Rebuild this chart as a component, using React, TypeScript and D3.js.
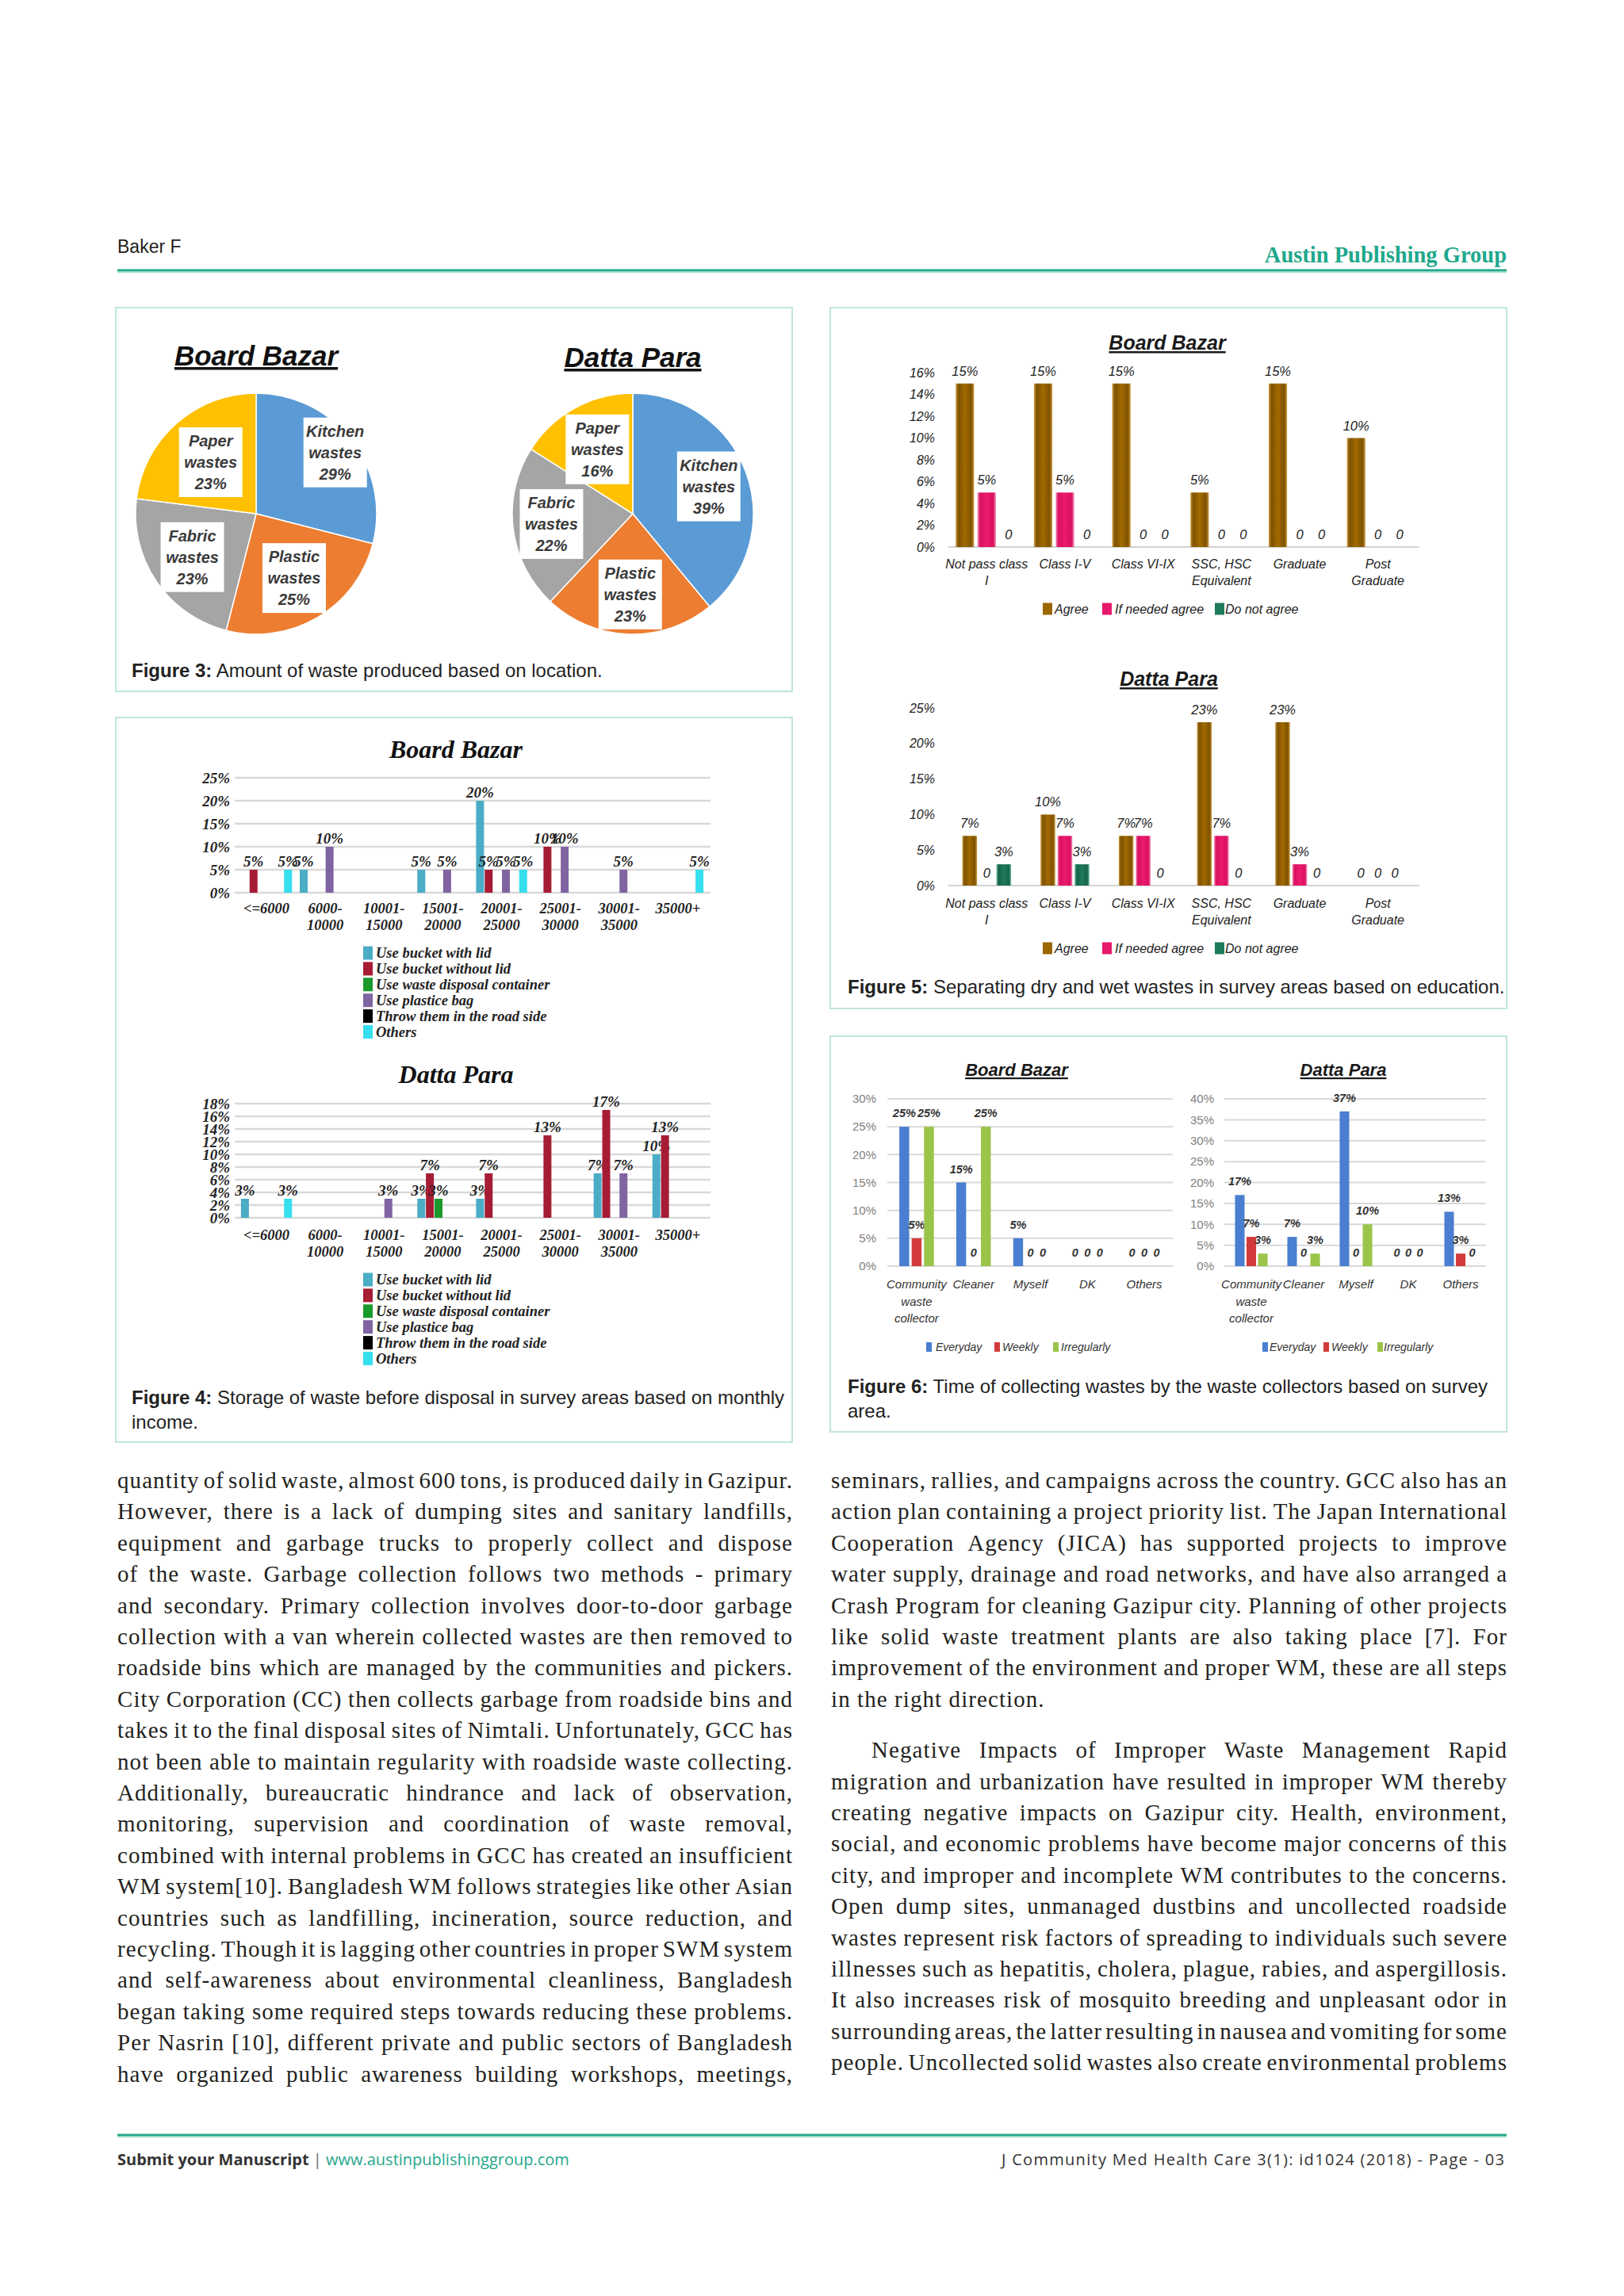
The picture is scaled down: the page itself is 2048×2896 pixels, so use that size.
import React, { useMemo } from "react";
import * as d3 from "d3";

// ---------------- DATA ----------------
// Figure 3: amount of waste by type
const wasteTypes = ["Kitchen", "Plastic", "Fabric", "Paper"];
const wasteBoardBazar = [29, 25, 23, 23];
const wasteDattaPara = [39, 23, 22, 16];

// Figure 4: storage of waste by monthly income
const incomeCategories = ["<=6000", "6000-10000", "10001-15000", "15001-20000", "20001-25000", "25001-30000", "30001-35000", "35000+"];
const storageSeries = ["Use bucket with lid", "Use bucket without lid", "Use waste disposal container", "Use plastice bag", "Throw them in the road side", "Others"];
const bbLid = [0, 5, 0, 5, 20, 0, 0, 0];
const bbNoLid = [5, 0, 0, 0, 5, 10, 0, 0];
const bbContainer = [0, 0, 0, 0, 0, 0, 0, 0];
const bbPlasticBag = [0, 10, 0, 5, 5, 10, 5, 0];
const bbRoadSide = [0, 0, 0, 0, 0, 0, 0, 0];
const bbOthers = [5, 0, 0, 0, 5, 0, 0, 5];
const dpLid = [3, 0, 0, 3, 3, 0, 7, 10];
const dpNoLid = [0, 0, 0, 7, 7, 13, 17, 13];
const dpContainer = [0, 0, 0, 3, 0, 0, 0, 0];
const dpPlasticBag = [0, 0, 3, 0, 0, 0, 7, 0];
const dpRoadSide = [0, 0, 0, 0, 0, 0, 0, 0];
const dpOthers = [3, 0, 0, 0, 0, 0, 0, 0];

// Figure 5: separating dry and wet wastes by education
const educationLabels = [["Not pass class", "I"], ["Class I-V"], ["Class VI-IX"], ["SSC, HSC", "Equivalent"], ["Graduate"], ["Post", "Graduate"]];
const separationSeries = ["Agree", "If needed agree", "Do not agree"];
const sepBBAgree = [15, 15, 15, 5, 15, 10];
const sepBBIfNeeded = [5, 5, 0, 0, 0, 0];
const sepBBNotAgree = [0, 0, 0, 0, 0, 0];
const sepDPAgree = [7, 10, 7, 23, 23, 0];
const sepDPIfNeeded = [0, 7, 7, 7, 3, 0];
const sepDPNotAgree = [3, 3, 0, 0, 0, 0];

// Figure 6: time of collecting wastes
const collectorLabels = [["Community", "waste", "collector"], ["Cleaner"], ["Myself"], ["DK"], ["Others"]];
const timeSeries = ["Everyday", "Weekly", "Irregularly"];
const timeBBEveryday = [25, 15, 5, 0, 0];
const timeBBWeekly = [5, 0, 0, 0, 0];
const timeBBIrregular = [25, 25, 0, 0, 0];
const timeDPEveryday = [17, 7, 37, 0, 13];
const timeDPWeekly = [7, 0, 0, 0, 3];
const timeDPIrregular = [3, 3, 10, 0, 0];

// Body text
const leftLines = [
  "quantity of solid waste, almost 600 tons, is produced daily in Gazipur.",
  "However, there is a lack of dumping sites and sanitary landfills,",
  "equipment and garbage trucks to properly collect and dispose",
  "of the waste. Garbage collection follows two methods - primary",
  "and secondary. Primary collection involves door-to-door garbage",
  "collection with a van wherein collected wastes are then removed to",
  "roadside bins which are managed by the communities and pickers.",
  "City Corporation (CC) then collects garbage from roadside bins and",
  "takes it to the final disposal sites of Nimtali. Unfortunately, GCC has",
  "not been able to maintain regularity with roadside waste collecting.",
  "Additionally, bureaucratic hindrance and lack of observation,",
  "monitoring, supervision and coordination of waste removal,",
  "combined with internal problems in GCC has created an insufficient",
  "WM system[10]. Bangladesh WM follows strategies like other Asian",
  "countries such as landfilling, incineration, source reduction, and",
  "recycling. Though it is lagging other countries in proper SWM system",
  "and self-awareness about environmental cleanliness, Bangladesh",
  "began taking some required steps towards reducing these problems.",
  "Per Nasrin [10], different private and public sectors of Bangladesh",
  "have organized public awareness building workshops, meetings,",
];
const rightLines = [
  "seminars, rallies, and campaigns across the country. GCC also has an",
  "action plan containing a project priority list. The Japan International",
  "Cooperation Agency (JICA) has supported projects to improve",
  "water supply, drainage and road networks, and have also arranged a",
  "Crash Program for cleaning Gazipur city. Planning of other projects",
  "like solid waste treatment plants are also taking place [7]. For",
  "improvement of the environment and proper WM, these are all steps",
  "in the right direction.",
  "Negative Impacts of Improper Waste Management Rapid",
  "migration and urbanization have resulted in improper WM thereby",
  "creating negative impacts on Gazipur city. Health, environment,",
  "social, and economic problems have become major concerns of this",
  "city, and improper and incomplete WM contributes to the concerns.",
  "Open dump sites, unmanaged dustbins and uncollected roadside",
  "wastes represent risk factors of spreading to individuals such severe",
  "illnesses such as hepatitis, cholera, plague, rabies, and aspergillosis.",
  "It also increases risk of mosquito breeding and unpleasant odor in",
  "surrounding areas, the latter resulting in nausea and vomiting for some",
  "people. Uncollected solid wastes also create environmental problems",
];

// ---------------- STYLES ----------------
const SANS = "'Liberation Sans', Arial, sans-serif";
const SERIF = "'Liberation Serif', 'Times New Roman', serif";
const NARROW = "'Liberation Sans Narrow', 'Liberation Sans', sans-serif";
const TEAL = "#1fa88c";
const wasteColors = ["#5b9bd5", "#ed7d31", "#a5a5a5", "#ffc000"];
const storageColors = ["#4bacc6", "#a61c34", "#1a9a2c", "#8064a2", "#000000", "#35dfee"];
const sepFills = ["url(#gAgree)", "url(#gPink)", "url(#gTeal)"];
const sepColors = ["#9c6600", "#e8186c", "#1e7a5c"];
const timeColors = ["#4a7ed0", "#d33b3b", "#9bc44a"];

const serifBI = { fontFamily: SERIF, fontWeight: 700, fontStyle: "italic" } as const;
const narrowI = { fontFamily: NARROW, fontStyle: "italic" } as const;

// ---------------- COMPONENTS ----------------
type PieProps = { cx: number; cy: number; r: number; values: number[]; title: string; titleY: number; labelR: number[] };
function Pie({ cx, cy, r, values, title, titleY, labelR }: PieProps) {
  const arcs = d3.pie<number>().sort(null).value((d) => d)(values);
  const arcGen = d3.arc<d3.PieArcDatum<number>>().innerRadius(0).outerRadius(r);
  return (
    <g>
      <text x={cx} y={titleY} textAnchor="middle" style={{ fontFamily: NARROW, fontWeight: 700, fontStyle: "italic", fontSize: 35, textDecoration: "underline" }} fill="#111">{title}</text>
      <g transform={`translate(${cx},${cy})`}>
        {arcs.map((a, i) => (
          <path key={i} d={arcGen(a) || ""} fill={wasteColors[i]} stroke="#fff" strokeWidth={1.5} />
        ))}
      </g>
      {arcs.map((a, i) => {
        const mid = (a.startAngle + a.endAngle) / 2;
        const rr = r * labelR[i];
        const lx = cx + rr * Math.sin(mid);
        const ly = cy - rr * Math.cos(mid);
        const lines = [wasteTypes[i], "wastes", `${values[i]}%`];
        return (
          <g key={"l" + i}>
            <rect x={lx - 40} y={ly - 44} width={80} height={88} fill="#fff" />
            {lines.map((t, li) => (
              <text key={li} x={lx} y={ly + (li - 1) * 27 + 7} textAnchor="middle" style={{ fontFamily: NARROW, fontWeight: 700, fontStyle: "italic", fontSize: 20 }} fill="#3a3a3a">{t}</text>
            ))}
          </g>
        );
      })}
    </g>
  );
}

type BarCfg = {
  cats: string[][];
  series: number[][];
  fills: string[];
  x0: number; x1: number; y0: number; y1: number;
  yMax: number; yStep: number; padOuter: number; padSlot: number;
  tickRight: number; tickStyle: any; tickFill: string;
  grid?: [number, number]; gridW?: number; axis?: [number, number];
  valueStyle: any; valueOffset: number; showZero: boolean; valueFill: string;
  xLabelY: number; xLabelLH: number; xLabelStyle: any; xLabelFill: string;
};
function GroupedBars(p: BarCfg) {
  const n = p.cats.length;
  const x = d3.scaleBand<number>().domain(d3.range(n)).range([p.x0, p.x1]).paddingInner(p.padOuter).paddingOuter(p.padOuter / 2);
  const xi = d3.scaleBand<number>().domain(d3.range(p.series.length)).range([0, x.bandwidth()]).paddingInner(p.padSlot).paddingOuter(p.padSlot / 2);
  const y = d3.scaleLinear().domain([0, p.yMax]).range([p.y0, p.y1]);
  const ticks = d3.range(0, p.yMax + p.yStep / 2, p.yStep);
  return (
    <g>
      {p.grid && ticks.map((t) => (
        <line key={"g" + t} x1={p.grid![0]} x2={p.grid![1]} y1={y(t)} y2={y(t)} stroke="#d9d9d9" strokeWidth={p.gridW || 2} />
      ))}
      {p.axis && <line x1={p.axis[0]} x2={p.axis[1]} y1={y(0)} y2={y(0)} stroke="#d4d4d4" strokeWidth={2} />}
      {ticks.map((t) => (
        <text key={"t" + t} x={p.tickRight} y={y(t)} dy="0.35em" textAnchor="end" style={p.tickStyle} fill={p.tickFill}>{`${t}%`}</text>
      ))}
      {p.series.map((s, si) =>
        s.map((v, ci) => {
          const bx = (x(ci) as number) + (xi(si) as number);
          const bw = xi.bandwidth();
          return (
            <g key={`b${si}-${ci}`}>
              {v > 0 && <rect x={bx} y={y(v)} width={bw} height={y(0) - y(v)} fill={p.fills[si]} />}
              {(v > 0 || p.showZero) && (
                <text x={bx + bw / 2} y={y(v) - p.valueOffset} textAnchor="middle" style={p.valueStyle} fill={p.valueFill}>{v > 0 ? `${v}%` : "0"}</text>
              )}
            </g>
          );
        })
      )}
      {p.cats.map((lines, ci) =>
        lines.map((l, li) => (
          <text key={`x${ci}-${li}`} x={(x(ci) as number) + x.bandwidth() / 2} y={p.xLabelY + li * p.xLabelLH} textAnchor="middle" style={p.xLabelStyle} fill={p.xLabelFill}>{l}</text>
        ))
      )}
    </g>
  );
}

type LegendItem = { label: string; color: string; sx: number; tx: number; y: number };
function Legend({ items, sw, sh, style, fill }: { items: LegendItem[]; sw: number; sh: number; style: any; fill: string }) {
  return (
    <g>
      {items.map((it, i) => (
        <g key={i}>
          <rect x={it.sx} y={it.y - sh / 2} width={sw} height={sh} fill={it.color} />
          <text x={it.tx} y={it.y} dy="0.35em" style={style} fill={fill}>{it.label}</text>
        </g>
      ))}
    </g>
  );
}

const BODY_SIZE = 29;
function BodyColumn({ lines, x0, x1, ys, justify, indent, refLine }: { lines: string[]; x0: number; x1: number; ys: number[]; justify: boolean[]; indent: number[]; refLine: string }) {
  const layout = useMemo(() => {
    const ctx = document.createElement("canvas").getContext("2d")!;
    ctx.font = `${BODY_SIZE}px ${SERIF}`;
    // letter spacing so that a naturally-set reference line fills the column
    const refW = ctx.measureText(refLine).width;
    const ls = (x1 - x0 - refW) / (refLine.length - 1);
    const space = ctx.measureText(" ").width + ls;
    const rows = lines.map((line, i) => {
      const words = line.split(" ");
      const widths = words.map((w) => ctx.measureText(w).width + ls * w.length);
      const start = x0 + indent[i];
      const avail = x1 - start;
      const total = widths.reduce((a, b) => a + b, 0);
      const gap = justify[i] && words.length > 1 ? (avail - total + ls) / (words.length - 1) : space;
      const xs: number[] = [];
      let cx = start;
      words.forEach((w, wi) => { xs.push(cx); cx += widths[wi] + gap; });
      return { words, xs };
    });
    return { rows, ls };
  }, [lines, x0, x1, refLine]);
  return (
    <g style={{ fontFamily: SERIF, fontSize: BODY_SIZE, letterSpacing: `${layout.ls}px` }} fill="#231f20">
      {layout.rows.map((l, i) => (
        <text key={i} y={ys[i]}>
          {l.words.map((w, wi) => (
            <tspan key={wi} x={l.xs[wi]}>{w}</tspan>
          ))}
        </text>
      ))}
    </g>
  );
}

function Caption({ x, y, label, lines }: { x: number; y: number; label: string; lines: string[] }) {
  return (
    <g style={{ fontFamily: SANS, fontSize: 24 }} fill="#222">
      {lines.map((l, i) => (
        <text key={i} x={x} y={y + i * 31}>
          {i === 0 && <tspan fontWeight={700}>{label}</tspan>}
          {i === 0 ? " " + l : l}
        </text>
      ))}
    </g>
  );
}

function splitIncome(c: string): string[] {
  const k = c.indexOf("-");
  if (k < 0) return [c];
  return [c.slice(0, k + 1), c.slice(k + 1)];
}

export default function App() {
  const incomeLabels = incomeCategories.map(splitIncome);
  const bbStorage = [bbLid, bbNoLid, bbContainer, bbPlasticBag, bbRoadSide, bbOthers];
  const dpStorage = [dpLid, dpNoLid, dpContainer, dpPlasticBag, dpRoadSide, dpOthers];

  const fig4Common = {
    cats: incomeLabels, fills: storageColors, x0: 299, x1: 892, padOuter: 0.12, padSlot: 0.08,
    tickRight: 290, tickStyle: { ...serifBI, fontSize: 19 }, tickFill: "#222",
    grid: [296, 896] as [number, number], gridW: 2.5,
    valueStyle: { ...serifBI, fontSize: 19 }, valueOffset: 4, showZero: false, valueFill: "#222",
    xLabelLH: 21, xLabelStyle: { ...serifBI, fontSize: 18.5 }, xLabelFill: "#222",
  };
  const fig5Common = {
    cats: educationLabels, fills: sepFills, x0: 1195, x1: 1787,
    tickRight: 1179, tickStyle: { ...narrowI, fontSize: 16 }, tickFill: "#222",
    axis: [1196, 1790] as [number, number],
    valueStyle: { ...narrowI, fontSize: 16.5 }, valueOffset: 10, showZero: true, valueFill: "#222",
    xLabelLH: 21, xLabelStyle: { ...narrowI, fontSize: 16 }, xLabelFill: "#222",
  };
  const fig6Common = {
    cats: collectorLabels, fills: timeColors,
    tickStyle: { fontFamily: NARROW, fontSize: 15 }, tickFill: "#808080",
    gridW: 2,
    valueStyle: { fontFamily: NARROW, fontStyle: "italic", fontWeight: 700, fontSize: 14.5 }, valueOffset: 12, showZero: true, valueFill: "#333",
    xLabelY: 1625, xLabelLH: 21.5, xLabelStyle: { ...narrowI, fontSize: 15 }, xLabelFill: "#333",
  };

  const leftYs = leftLines.map((_, i) => 1877 + i * 39.4);
  const rightYs = rightLines.map((_, i) => 1877 + i * 39.4 + (i >= 8 ? 25 : 0));

  const fig4LegendItems = (y0: number) =>
    storageSeries.map((s, i) => ({ label: s, color: storageColors[i], sx: 458, tx: 474, y: y0 + i * 19.9 }));
  const fig5LegendItems = (y: number) =>
    separationSeries.map((s, i) => ({ label: s, color: sepColors[i], sx: [1315, 1390, 1532][i], tx: [1330, 1406, 1545][i], y }));
  const fig6LegendItems = (sx: number[], tx: number[]) =>
    timeSeries.map((s, i) => ({ label: s, color: timeColors[i], sx: sx[i], tx: tx[i], y: 1699 }));

  const underlineTitle = (x: number, y: number, t: string, size: number) => (
    <text x={x} y={y} textAnchor="middle" style={{ fontFamily: NARROW, fontWeight: 700, fontStyle: "italic", fontSize: size, textDecoration: "underline" }} fill="#1a1a1a">{t}</text>
  );

  return (
    <svg width={2048} height={2896} style={{ position: "absolute", left: 0, top: 0, background: "#fff" }}>
      <defs>
        <linearGradient id="gAgree" x1="0" x2="1" y1="0" y2="0">
          <stop offset="0" stopColor="#c99a3c" />
          <stop offset="0.15" stopColor="#7d5200" />
          <stop offset="0.5" stopColor="#a26a00" />
          <stop offset="0.85" stopColor="#7d5200" />
          <stop offset="1" stopColor="#c99a3c" />
        </linearGradient>
        <linearGradient id="gPink" x1="0" x2="1" y1="0" y2="0">
          <stop offset="0" stopColor="#f584b2" />
          <stop offset="0.15" stopColor="#d8105f" />
          <stop offset="0.5" stopColor="#ec1a70" />
          <stop offset="0.85" stopColor="#d8105f" />
          <stop offset="1" stopColor="#f584b2" />
        </linearGradient>
        <linearGradient id="gTeal" x1="0" x2="1" y1="0" y2="0">
          <stop offset="0" stopColor="#6fb9a2" />
          <stop offset="0.15" stopColor="#15634a" />
          <stop offset="0.5" stopColor="#1f7a5c" />
          <stop offset="0.85" stopColor="#15634a" />
          <stop offset="1" stopColor="#6fb9a2" />
        </linearGradient>
      </defs>
      <rect x={0} y={0} width={2048} height={2896} fill="#fff" />

      {/* Header */}
      <text x={148} y={319} style={{ fontFamily: SANS, fontSize: 23 }} fill="#231f20">Baker F</text>
      <text x={1900} y={331} textAnchor="end" style={{ fontFamily: SERIF, fontWeight: 700, fontSize: 28.5 }} fill={TEAL}>Austin Publishing Group</text>
      <line x1={148} x2={1900} y1={341} y2={341} stroke={TEAL} strokeWidth={3} />
      <line x1={148} x2={1900} y1={343.5} y2={343.5} stroke="#a8dfd4" strokeWidth={1.5} />

      {/* Figure boxes */}
      <g fill="none" stroke="#bfe5de" strokeWidth={2}>
        <rect x={146} y={388} width={853} height={484} />
        <rect x={146} y={905} width={853} height={914} />
        <rect x={1047} y={388} width={853} height={884} />
        <rect x={1047} y={1307} width={853} height={499} />
      </g>

      {/* Figure 3 */}
      <Pie cx={323} cy={648} r={152} values={wasteBoardBazar} title="Board Bazar" titleY={461} labelR={[0.83, 0.62, 0.64, 0.57]} />
      <Pie cx={798} cy={648} r={152} values={wasteDattaPara} title="Datta Para" titleY={463} labelR={[0.67, 0.67, 0.68, 0.61]} />
      <Caption x={166} y={854} label="Figure 3:" lines={["Amount of waste produced based on location."]} />

      {/* Figure 4 */}
      <text x={575} y={956} textAnchor="middle" style={{ ...serifBI, fontSize: 32 }} fill="#111">Board Bazar</text>
      <GroupedBars {...fig4Common} series={bbStorage} y0={1126} y1={981} yMax={25} yStep={5} xLabelY={1152} />
      <Legend items={fig4LegendItems(1202)} sw={12} sh={17} style={{ ...serifBI, fontSize: 18.5 }} fill="#222" />
      <text x={575} y={1366} textAnchor="middle" style={{ ...serifBI, fontSize: 32 }} fill="#111">Datta Para</text>
      <GroupedBars {...fig4Common} series={dpStorage} y0={1536} y1={1392} yMax={18} yStep={2} xLabelY={1564} />
      <Legend items={fig4LegendItems(1614)} sw={12} sh={17} style={{ ...serifBI, fontSize: 18.5 }} fill="#222" />
      <Caption x={166} y={1771} label="Figure 4:" lines={["Storage of waste before disposal in survey areas based on monthly", "income."]} />

      {/* Figure 5 */}
      {underlineTitle(1472, 441, "Board Bazar", 25)}
      <GroupedBars {...fig5Common} series={[sepBBAgree, sepBBIfNeeded, sepBBNotAgree]} y0={690} y1={470} yMax={16} yStep={2} padOuter={0.164} padSlot={0.16} xLabelY={717} />
      <Legend items={fig5LegendItems(768)} sw={12} sh={15} style={{ ...narrowI, fontSize: 16 }} fill="#222" />
      {underlineTitle(1474, 865, "Datta Para", 25)}
      <GroupedBars {...fig5Common} series={[sepDPAgree, sepDPIfNeeded, sepDPNotAgree]} y0={1117} y1={893} yMax={25} yStep={5} padOuter={0.346} padSlot={0.14} xLabelY={1145} />
      <Legend items={fig5LegendItems(1196)} sw={12} sh={15} style={{ ...narrowI, fontSize: 16 }} fill="#222" />
      <Caption x={1069} y={1253} label="Figure 5:" lines={["Separating dry and wet wastes in survey areas based on education."]} />

      {/* Figure 6 */}
      {underlineTitle(1282, 1357, "Board Bazar", 22)}
      <GroupedBars {...fig6Common} series={[timeBBEveryday, timeBBWeekly, timeBBIrregular]} x0={1120} x1={1479} y0={1597} y1={1386} yMax={30} yStep={5} padOuter={0.35} padSlot={0.2} tickRight={1105} grid={[1119, 1479]} />
      <Legend items={fig6LegendItems([1168, 1254, 1328], [1180, 1264, 1338])} sw={7} sh={12} style={{ ...narrowI, fontSize: 14 }} fill="#333" />
      {underlineTitle(1694, 1357, "Datta Para", 22)}
      <GroupedBars {...fig6Common} series={[timeDPEveryday, timeDPWeekly, timeDPIrregular]} x0={1545} x1={1875} y0={1597} y1={1386} yMax={40} yStep={5} padOuter={0.34} padSlot={0.17} tickRight={1531} grid={[1544, 1874]} />
      <Legend items={fig6LegendItems([1592, 1669, 1737], [1601, 1679, 1745])} sw={7} sh={12} style={{ ...narrowI, fontSize: 14 }} fill="#333" />
      <Caption x={1069} y={1757} label="Figure 6:" lines={["Time of collecting wastes by the waste collectors based on survey", "area."]} />

      {/* Body text */}
      <BodyColumn lines={leftLines} x0={148} x1={999} ys={leftYs} justify={leftLines.map(() => true)} indent={leftLines.map(() => 0)} refLine={leftLines[9]} />
      <BodyColumn lines={rightLines} x0={1048} x1={1900} ys={rightYs} justify={rightLines.map((_, i) => i !== 7)} indent={rightLines.map((_, i) => (i === 8 ? 51 : 0))} refLine={leftLines[9]} />

      {/* Footer */}
      <line x1={148} x2={1900} y1={2693} y2={2693} stroke={TEAL} strokeWidth={3} />
      <line x1={148} x2={1900} y1={2695.5} y2={2695.5} stroke="#a8dfd4" strokeWidth={1.5} />
      <text x={148} y={2731} style={{ fontFamily: "'Open Sans', sans-serif", fontSize: 20 }}>
        <tspan fontWeight={700} fill="#333">Submit your Manuscript</tspan>
        <tspan fill="#666"> | </tspan>
        <tspan fill={TEAL}>www.austinpublishinggroup.com</tspan>
      </text>
      <text x={1263} y={2731} textLength={634} lengthAdjust="spacing" style={{ fontFamily: "'Open Sans', sans-serif", fontSize: 20 }} fill="#333">J Community Med Health Care 3(1): id1024 (2018)  - Page - 03</text>
    </svg>
  );
}
